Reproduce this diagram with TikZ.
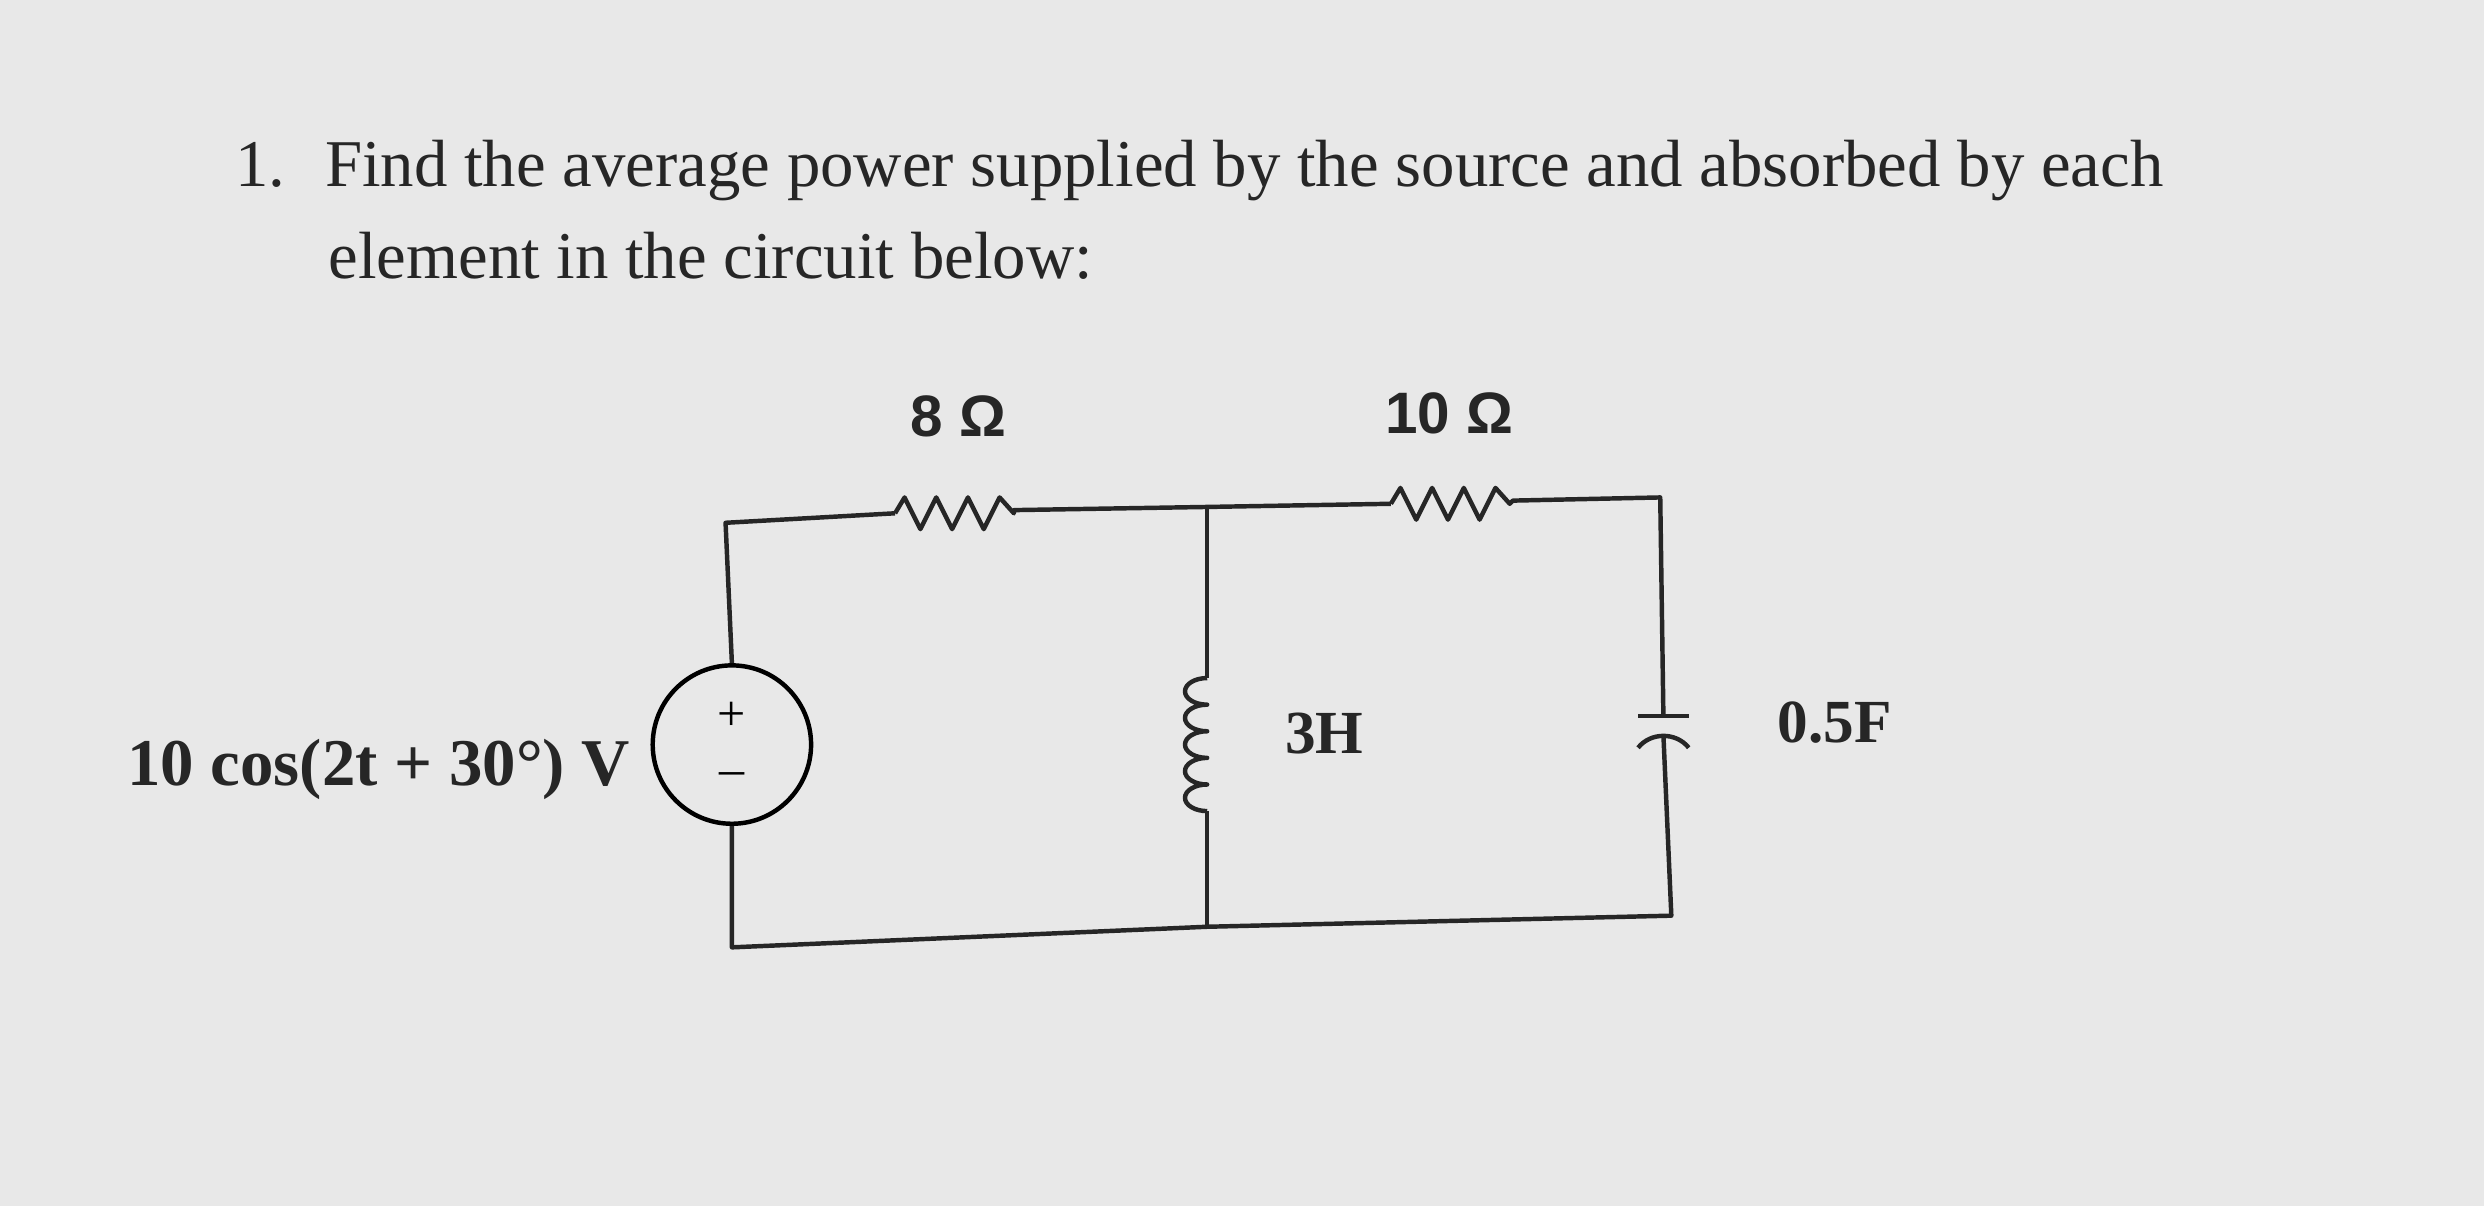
\documentclass[tikz,border=0pt]{standalone}
\usepackage{fontspec}
\setmainfont{Liberation Serif}
\newfontfamily\lsans{Liberation Sans}
\begin{document}
\begin{tikzpicture}[x=0.02cm,y=-0.02cm,
  wire/.style={line width=1.6pt,black!85,line join=round},
  lab/.style={font=\fontsize{22}{26}\selectfont\bfseries,text=black!85,inner sep=0pt}]
\fill[black!9] (0,0) rectangle (1568,761);
\useasboundingbox (0,0) rectangle (1568,761);
% title
\node[anchor=base west,inner sep=0pt,font=\fontsize{24}{28}\selectfont,text=black!85] (t1) at (148,118) {1.\hspace{0.6em}Find the average power supplied by the source and absorbed by each};
\node[anchor=base west,inner sep=0pt,font=\fontsize{24}{28}\selectfont,text=black!85] (t2) at (207,176) {element in the circuit below:};
% coordinates
\coordinate (tl) at (458,330);
\coordinate (r1a) at (565,324);
\coordinate (r1b) at (640,322);
\coordinate (mt) at (762,320);
\coordinate (r2a) at (878,318);
\coordinate (r2b) at (955,316);
\coordinate (tr) at (1048,314);
\coordinate (br) at (1055,578);
\coordinate (mb) at (762,585);
\coordinate (bl) at (462,598);
\node[draw,circle,line width=1.6pt,minimum size=2cm,inner sep=0pt] (src) at (462,470) {};
\node[font=\fontsize{18}{20}\selectfont,inner sep=0pt] (plus) at (462,452) {+};
\node[font=\fontsize{18}{20}\selectfont,inner sep=0pt] (minus) at (462,492) {--};
% wires
\draw[wire] (src.north) -- (tl) -- (r1a);
\draw[wire] (r1a) -- ++(6,-10) -- ++(10,20) -- ++(10,-20) -- ++(10,20) -- ++(10,-20) -- ++(10,20) -- ++(10,-20) -- ++(9,10) -- (r1b) -- (mt) -- (r2a);
\draw[wire] (r2a) -- ++(6,-10) -- ++(10,20) -- ++(10,-20) -- ++(10,20) -- ++(10,-20) -- ++(10,20) -- ++(10,-20) -- ++(9,10) -- (r2b) -- (tr) -- (1050,452);
\draw[wire] (1034,452) -- (1066,452);
\draw[wire] (1034,472) .. controls (1042,462) and (1058,462) .. (1066,472);
\coordinate (cb) at (1050,464);
\draw[wire] (cb) -- (br) -- (mb) -- (bl) -- (src.south);
% inductor
\draw[wire] (mt) -- (762,428);
\draw[wire] (762,428) \foreach \i in {0,...,4} { arc[start angle=-90,end angle=-270,x radius=14,y radius=8.4] -- ++(0,0) };
\draw[wire] (762,512) -- (mb);
% labels
\node[lab,font=\lsans\fontsize{21}{24}\selectfont\bfseries] (l8) at (605,263) {8 Ω};
\node[lab,font=\lsans\fontsize{21}{24}\selectfont\bfseries] (l10) at (915,261) {10 Ω};
\node[lab] (l3) at (836,463) {3H};
\node[lab] (l05) at (1158,456) {0.5F};
\node[lab,anchor=east,font=\fontsize{24}{28}\selectfont\bfseries] (lsrc) at (398,486) {10 cos(2t + 30°) V};
\end{tikzpicture}
\end{document}
